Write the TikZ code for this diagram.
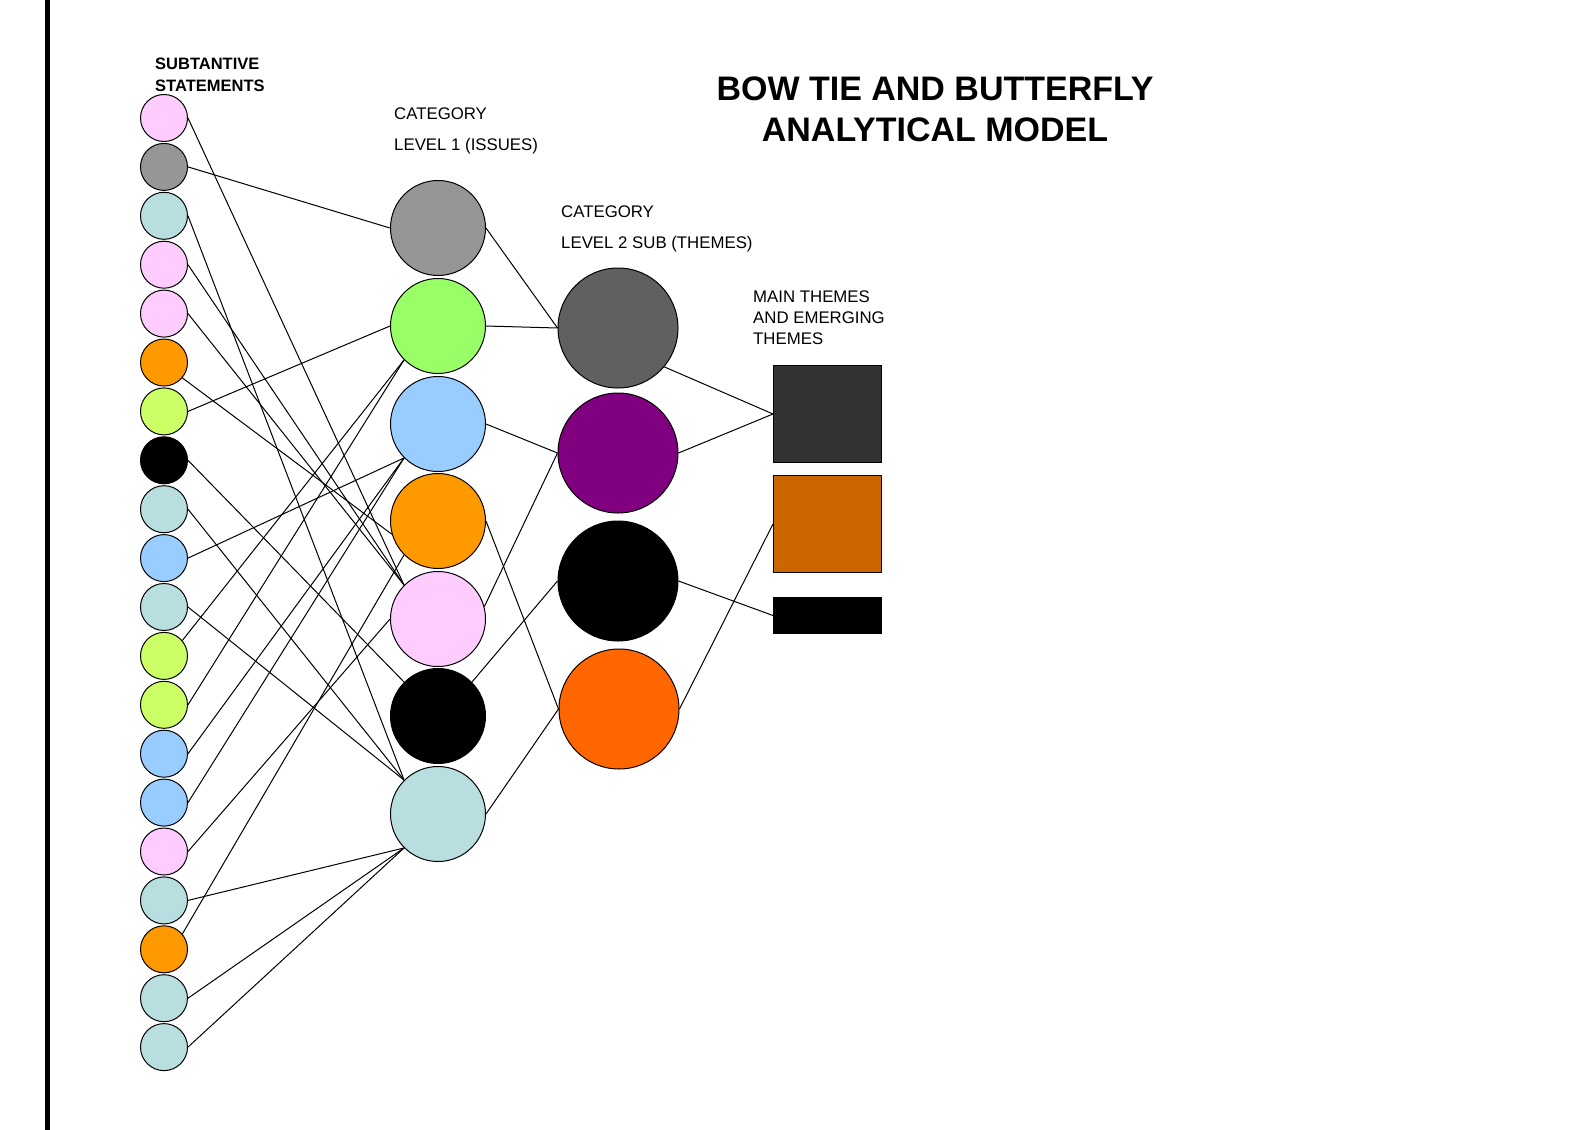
\documentclass[tikz,border=0pt]{standalone}
\usepackage{fontspec}
\setmainfont{Liberation Sans}
\begin{document}
\begin{tikzpicture}[x=1pt,y=-1pt,
 s/.style={circle,draw,line width=1pt,minimum size=47pt,inner sep=0pt},
 l1/.style={circle,draw,line width=1pt,minimum size=95pt,inner sep=0pt},
 l2/.style={circle,draw,line width=1pt,minimum size=120pt,inner sep=0pt},
 sq/.style={draw,line width=1pt,inner sep=0pt,anchor=north west},
 lab/.style={anchor=west,font=\fontsize{16.8pt}{20pt}\selectfont,inner sep=0pt},
 c/.style={line width=1pt}]
\useasboundingbox (0,0) rectangle (1572,1130);
\definecolor{pk}{HTML}{FFCCFF}\definecolor{gy}{HTML}{969696}\definecolor{tl}{HTML}{B9DEE0}
\definecolor{og}{HTML}{FF9900}\definecolor{yg}{HTML}{CCFF66}\definecolor{bl}{HTML}{99CCFF}
\definecolor{gr}{HTML}{99FF66}\definecolor{dg}{HTML}{606060}\definecolor{pu}{HTML}{800080}
\definecolor{or}{HTML}{FF6600}\definecolor{d3}{HTML}{333333}\definecolor{br}{HTML}{CC6600}
\fill (45,0) rectangle (50,1130);
\foreach \i/\col in {1/pk,2/gy,3/tl,4/pk,5/pk,6/og,7/yg,8/black,9/tl,10/bl,11/tl,12/yg,13/yg,14/bl,15/bl,16/pk,17/tl,18/og,19/tl,20/tl}
  \node[s,fill=\col] (s\i) at (164,{118+48.9*(\i-1)}) {};
\node[l1,fill=gy] (g) at (438,228) {};
\node[l1,fill=gr] (n) at (438,326) {};
\node[l1,fill=bl] (b) at (438,424) {};
\node[l1,fill=og] (o) at (438,521) {};
\node[l1,fill=pk] (p) at (438,619) {};
\node[l1,fill=black] (k) at (438,716) {};
\node[l1,fill=tl] (t) at (438,814) {};
\node[l2,fill=dg] (A) at (618,328) {};
\node[l2,fill=pu] (B) at (618,453) {};
\node[l2,fill=black] (C) at (618,581) {};
\node[l2,fill=or] (D) at (619,709) {};
\node[sq,fill=d3,minimum width=108pt,minimum height=97pt] (Q1) at (773,365) {};
\node[sq,fill=br,minimum width=108pt,minimum height=97pt] (Q2) at (773,475) {};
\node[sq,fill=black,minimum width=108pt,minimum height=36pt] (Q3) at (773,597) {};
\node[anchor=west,inner sep=0pt,align=left,font=\bfseries\fontsize{16.5pt}{21.5pt}\selectfont] (h0) at (155,75) {SUBTANTIVE\\STATEMENTS};
\node[lab] (h1) at (394,114) {CATEGORY};
\node[lab] (h1b) at (394,146) {LEVEL 1 (ISSUES)};
\node[lab] (h2) at (561,212) {CATEGORY};
\node[lab] (h2b) at (561,244) {LEVEL 2 SUB (THEMES)};
\node[anchor=west,inner sep=0pt,align=left,font=\fontsize{16.8pt}{21pt}\selectfont] (h3) at (753,318) {MAIN THEMES\\AND EMERGING\\THEMES};
\node[align=center,inner sep=0pt,font=\bfseries\fontsize{34pt}{41pt}\selectfont] (T) at (935,109) {BOW TIE AND BUTTERFLY\\ANALYTICAL MODEL};
\draw[c] (s1.east)--(p.135); \draw[c] (s2.east)--(g.180); \draw[c] (s3.east)--(t.135);
\draw[c] (s4.east)--(p.135); \draw[c] (s5.east)--(p.135); \draw[c] (s6.-40)--(o.196);
\draw[c] (s7.east)--(n.180); \draw[c] (s8.east)--(k.135); \draw[c] (s9.east)--(t.135);
\draw[c] (s10.east)--(b.225); \draw[c] (s11.east)--(t.135); \draw[c] (s12.40)--(n.225);
\draw[c] (s13.east)--(n.225); \draw[c] (s14.east)--(b.225); \draw[c] (s15.east)--(b.225);
\draw[c] (s16.east)--(p.180); \draw[c] (s17.east)--(t.225); \draw[c] (s18.40)--(o.225);
\draw[c] (s19.east)--(t.225); \draw[c] (s20.east)--(t.225);
\draw[c] (g.0)--(A.180); \draw[c] (n.0)--(A.180); \draw[c] (b.0)--(B.180);
\draw[c] (o.0)--(D.180); \draw[c] (p.15)--(B.180); \draw[c] (k.45)--(C.180); \draw[c] (t.0)--(D.180);
\draw[c] (A.-40)--(Q1.west); \draw[c] (B.0)--(Q1.west); \draw[c] (C.0)--(Q3.west); \draw[c] (D.0)--(Q2.west);
\end{tikzpicture}
\end{document}
